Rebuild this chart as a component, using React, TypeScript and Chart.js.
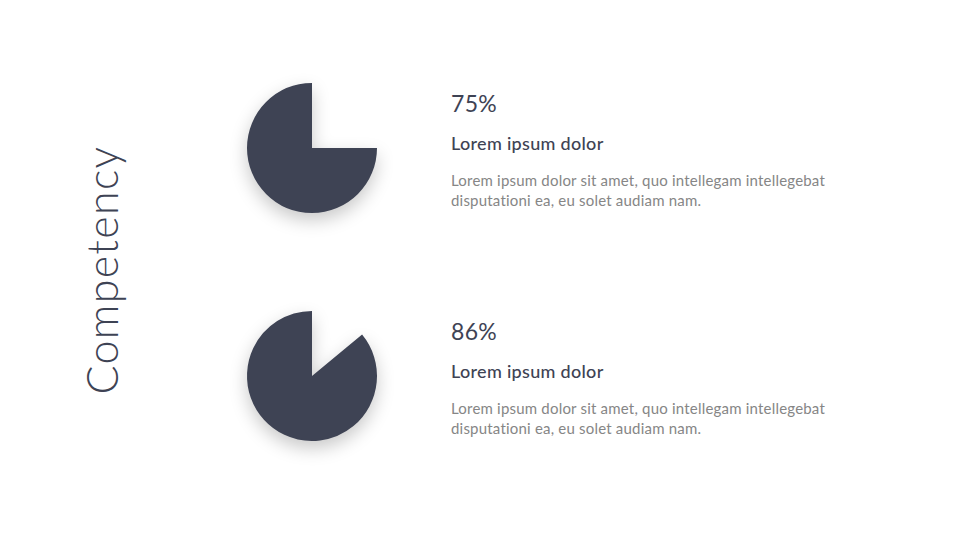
import { useEffect, useRef } from 'react'
import { Chart, ArcElement, PieController } from 'chart.js'
import type { Plugin } from 'chart.js'

Chart.register(ArcElement, PieController)

const percents = [75, 86]
const headings = ['Lorem ipsum dolor', 'Lorem ipsum dolor']
const descriptions = [
  ['Lorem ipsum dolor sit amet, quo intellegam intellegebat', 'disputationi ea, eu solet audiam nam.'],
  ['Lorem ipsum dolor sit amet, quo intellegam intellegebat', 'disputationi ea, eu solet audiam nam.'],
]
const title = 'Competency'

const DARK = '#3e4354'
const FONT = 'Lato, "Noto Sans", sans-serif'

// soft drop shadow under the filled slice
const shadowPlugin: Plugin<'pie'> = {
  id: 'pieShadow',
  beforeDatasetDraw(chart) {
    const c = chart.ctx
    c.save()
    c.shadowColor = 'rgba(0,0,0,0.22)'
    c.shadowBlur = 18
    c.shadowOffsetY = 7
  },
  afterDatasetDraw(chart) {
    chart.ctx.restore()
  },
}

function PieBadge({ value }: { value: number }) {
  const canvasRef = useRef<HTMLCanvasElement>(null)
  const chartRef = useRef<Chart<'pie'> | null>(null)

  useEffect(() => {
    if (!canvasRef.current) return
    chartRef.current?.destroy()
    chartRef.current = new Chart(canvasRef.current, {
      type: 'pie',
      data: {
        labels: ['rest', 'value'],
        datasets: [
          {
            data: [100 - value, value],
            backgroundColor: ['rgba(0,0,0,0)', DARK],
            borderWidth: 0,
            radius: 65,
          },
        ],
      },
      options: {
        animation: false,
        responsive: true,
        maintainAspectRatio: false,
        events: [],
        plugins: { legend: { display: false }, tooltip: { enabled: false } },
      },
      plugins: [shadowPlugin],
    })
    return () => chartRef.current?.destroy()
  }, [value])

  return (
    <div style={{ width: 200, height: 200, position: 'relative' }}>
      <canvas ref={canvasRef} />
    </div>
  )
}

export default function App() {
  return (
    <div
      style={{
        position: 'absolute',
        left: 0,
        top: 0,
        width: 960,
        height: 540,
        background: '#ffffff',
        overflow: 'hidden',
        fontFamily: FONT,
      }}
    >
      <div
        style={{
          position: 'absolute',
          left: 102 - 200,
          top: 270 - 30,
          width: 400,
          height: 60,
          lineHeight: '60px',
          textAlign: 'center',
          transform: 'rotate(-90deg)',
          fontSize: 43,
          fontWeight: 300,
          color: DARK,
          letterSpacing: 1.3,
        }}
      >
        {title}
      </div>

      {percents.map((p, i) => {
        const dy = i * 228
        return (
          <div key={i}>
            <div style={{ position: 'absolute', left: 312 - 100, top: 148 - 100 + dy }}>
              <PieBadge value={p} />
            </div>
            <div
              style={{
                position: 'absolute',
                left: 451,
                top: 88 + dy,
                fontSize: 23,
                lineHeight: '30px',
                color: DARK,
                letterSpacing: 0.3,
              }}
            >
              {p}%
            </div>
            <div
              style={{
                position: 'absolute',
                left: 451,
                top: 131 + dy,
                fontSize: 18,
                lineHeight: '24px',
                fontWeight: 500,
                color: DARK,
                letterSpacing: 0.3,
              }}
            >
              {headings[i]}
            </div>
            <div
              style={{
                position: 'absolute',
                left: 451,
                top: 170 + dy,
                fontSize: 15,
                lineHeight: '20px',
                color: '#868686',
                letterSpacing: 0.2,
                whiteSpace: 'nowrap',
              }}
            >
              {descriptions[i].map((l, j) => (
                <div key={j}>{l}</div>
              ))}
            </div>
          </div>
        )
      })}
    </div>
  )
}
